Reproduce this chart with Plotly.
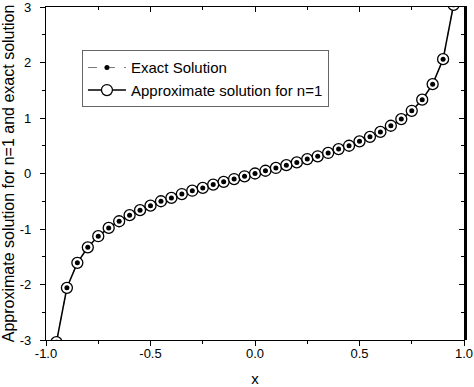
import plotly.graph_objects as go

x_vals = [-0.95, -0.90, -0.85, -0.80, -0.75, -0.70, -0.65, -0.60, -0.55, -0.50,
          -0.45, -0.40, -0.35, -0.30, -0.25, -0.20, -0.15, -0.10, -0.05, 0.00,
          0.05, 0.10, 0.15, 0.20, 0.25, 0.30, 0.35, 0.40, 0.45, 0.50,
          0.55, 0.60, 0.65, 0.70, 0.75, 0.80, 0.85, 0.90, 0.95]
exact = [-3.04, -2.06, -1.61, -1.33, -1.13, -0.98, -0.86, -0.75, -0.66, -0.58,
         -0.50, -0.44, -0.37, -0.31, -0.26, -0.20, -0.15, -0.10, -0.05, 0.00,
         0.05, 0.10, 0.15, 0.20, 0.26, 0.31, 0.37, 0.44, 0.50, 0.58,
         0.66, 0.75, 0.86, 0.98, 1.13, 1.33, 1.61, 2.06, 3.04]
approx_n1 = [-3.04, -2.06, -1.61, -1.33, -1.13, -0.98, -0.86, -0.75, -0.66, -0.58,
             -0.50, -0.44, -0.37, -0.31, -0.26, -0.20, -0.15, -0.10, -0.05, 0.00,
             0.05, 0.10, 0.15, 0.20, 0.26, 0.31, 0.37, 0.44, 0.50, 0.58,
             0.66, 0.75, 0.86, 0.98, 1.13, 1.33, 1.61, 2.06, 3.04]
x_ticks = [-1.0, -0.5, 0.0, 0.5, 1.0]
x_tick_text = ["-1.0", "-0.5", "0.0", "0.5", "1.0"]
y_ticks = [-3, -2, -1, 0, 1, 2, 3]
y_tick_text = ["-3", "-2", "-1", "0", "1", "2", "3"]

FONT = "Arial, 'Liberation Sans', sans-serif"

fig = go.Figure()
fig.add_trace(go.Scatter(
    x=x_vals, y=exact, mode="lines+markers", name="Exact Solution",
    line=dict(color="#777777", width=1, dash="dash"),
    marker=dict(symbol="circle", size=5, color="black"),
))
fig.add_trace(go.Scatter(
    x=x_vals, y=approx_n1, mode="lines+markers", name="Approximate solution for n=1",
    line=dict(color="black", width=1.5),
    marker=dict(symbol="circle", size=11, color="white", line=dict(color="black", width=1.3)),
))
fig.add_trace(go.Scatter(
    x=x_vals, y=exact, mode="markers", showlegend=False, hoverinfo="skip",
    marker=dict(symbol="circle", size=5, color="black"),
))
# transparent trace so the mirrored (top/right) tick axes are rendered
fig.add_trace(go.Scatter(
    x=x_vals, y=exact, xaxis="x2", yaxis="y2", mode="markers",
    showlegend=False, hoverinfo="skip", marker=dict(size=1, color="rgba(0,0,0,0)"),
))

tick_common = dict(tickcolor="black", tickwidth=1.2, ticklen=5, automargin=False,
                   showgrid=False, zeroline=False, linecolor="black",
                   showline=True, ticklabeloverflow="allow")

fig.update_layout(
    width=474, height=387,
    margin=dict(l=46, r=10, t=7, b=47, pad=0, autoexpand=False),
    paper_bgcolor="white", plot_bgcolor="white",
    font=dict(family=FONT, color="black"),
    xaxis=dict(range=[-1, 1], tickvals=x_ticks, ticktext=x_tick_text, ticks="outside",
               tickfont=dict(family=FONT, size=13, color="black"), ticklabelstandoff=-4,
               mirror=True, linewidth=1.3,
               minor=dict(dtick=0.25, tick0=0, ticks="outside", ticklen=3, tickcolor="black", tickwidth=1.2),
               title=dict(text="x", font=dict(family=FONT, size=15), standoff=13),
               **tick_common),
    yaxis=dict(range=[-3, 3], tickvals=y_ticks, ticktext=y_tick_text, ticks="outside",
               tickfont=dict(family=FONT, size=13, color="black"), ticklabelstandoff=6,
               mirror=True, linewidth=1.3,
               minor=dict(dtick=0.5, tick0=0, ticks="outside", ticklen=3, tickcolor="black", tickwidth=1.2),
               title=dict(text="Approximate solution for n=1 and exact solution",
                          font=dict(family=FONT, size=16), standoff=1),
               **tick_common),
    xaxis2=dict(range=[-1, 1], overlaying="x", side="top", anchor="y", tickvals=x_ticks, ticks="inside",
                showticklabels=False, linewidth=1.3,
                minor=dict(dtick=0.25, tick0=0, ticks="inside", ticklen=3, tickcolor="black", tickwidth=1.2),
                **tick_common),
    yaxis2=dict(range=[-3, 3], overlaying="y", side="right", anchor="x", tickvals=y_ticks, ticks="inside",
                showticklabels=False, linewidth=2.5,
                minor=dict(dtick=0.5, tick0=0, ticks="inside", ticklen=3, tickcolor="black", tickwidth=1.2),
                **tick_common),
    legend=dict(x=0.086, y=0.87, xanchor="left", yanchor="top",
                bgcolor="white", bordercolor="#666666", borderwidth=1,
                font=dict(family=FONT, size=15, color="black"),
                tracegroupgap=0, itemwidth=38),
    showlegend=True,
)

fig.write_html("out.html", config={"displayModeBar": False},
               post_script="document.body.style.margin='0';")
